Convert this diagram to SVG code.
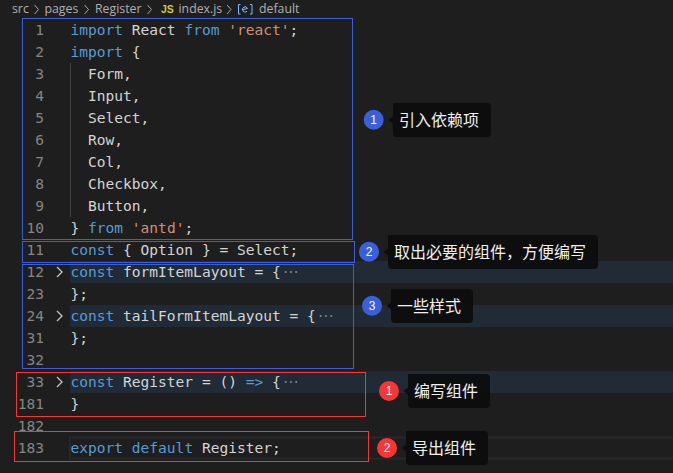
<svg xmlns="http://www.w3.org/2000/svg" width="673" height="473" viewBox="0 0 673 473">
<style>
.code{font-family:"DejaVu Sans Mono","Liberation Mono",monospace;font-size:14.55px;fill:#d4d4d4;white-space:pre}
.k{fill:#569cd6}.s{fill:#ce9178}
.d{fill:#858585;font-family:"Noto Sans CJK SC",sans-serif;font-size:14px}
.n{font-family:"DejaVu Sans Mono","Liberation Mono",monospace;font-size:14.55px;fill:#858585;text-anchor:end}
.crumb{font-family:"Open Sans","Liberation Sans",sans-serif;font-size:12.3px;fill:#b0b0b0}
.chev{fill:none;stroke:#a9a9a9;stroke-width:1}
.fold{fill:none;stroke:#c5c5c5;stroke-width:1.3}
.band{fill:#202b36}
.box{fill:none;stroke-width:1}
.blue{stroke:#3a5fd9}.red{stroke:#f93636}
.tip{fill:#0c0c0c;fill-opacity:.92}
.cb{fill:#3a5fd9}.cr{fill:#f93636}
.num{font-family:"Liberation Sans",Arial,sans-serif;font-size:12px;fill:#fff;text-anchor:middle}
.lbl{font-family:"Noto Sans CJK SC","Noto Sans",sans-serif;font-size:16px;fill:#f0f0f0}
</style>
<rect width="673" height="473" fill="#1e1e1e"/>
<g id="breadcrumb">
<text class="crumb" x="12" y="13">src</text>
<path class="chev" d="M34.500 5l4 4.500l-4 4.500"/>
<text class="crumb" x="44.500" y="13">pages</text>
<path class="chev" d="M84.500 5l4 4.500l-4 4.500"/>
<text class="crumb" x="95" y="13">Register</text>
<path class="chev" d="M147.500 5l4 4.500l-4 4.500"/>
<text x="161" y="12.500" font-family="Liberation Sans,sans-serif" font-size="10.500" font-weight="700" fill="#cbcb41">JS</text>
<text class="crumb" x="178.500" y="13">index.js</text>
<path class="chev" d="M227 5l4 4.500l-4 4.500"/>
<path d="M240.500 4.500h-2v9.500h2M250 4.500h2v9.500h-2" fill="none" stroke="#75beff" stroke-width="1"/>
<path d="M243 9.500l4.500-1a2.600 2.600 0 1 0-.5 2.700" fill="none" stroke="#75beff" stroke-width="1"/>
<text class="crumb" x="259" y="13">default</text>
</g>
<g id="editor-bands">
<rect class="band" x="70" y="261" width="603" height="22"/>
<rect class="band" x="70" y="305" width="603" height="22"/>
<rect class="band" x="70" y="371" width="603" height="22"/>
<rect x="70" y="437.500" width="604" height="21" fill="none" stroke="#282828" stroke-width="2"/>
<path d="M70.500 63v154" stroke="#404040" stroke-width="1"/>
</g>
<g id="line-numbers">
<text class="n" x="44" y="35">1</text><text class="n" x="44" y="57">2</text><text class="n" x="44" y="79">3</text><text class="n" x="44" y="101">4</text><text class="n" x="44" y="123">5</text><text class="n" x="44" y="145">6</text><text class="n" x="44" y="167">7</text><text class="n" x="44" y="189">8</text><text class="n" x="44" y="211">9</text><text class="n" x="44" y="233">10</text><text class="n" x="44" y="255">11</text><text class="n" x="44" y="277">12</text><text class="n" x="44" y="299">23</text><text class="n" x="44" y="321">24</text><text class="n" x="44" y="343">31</text><text class="n" x="44" y="365">32</text><text class="n" x="44" y="387">33</text><text class="n" x="44" y="409">181</text><text class="n" x="44" y="431">182</text><text class="n" x="44" y="453">183</text>
</g>
<g id="fold-chevrons">
<path class="fold" d="M57 267l5 5l-5 5"/><path class="fold" d="M57 311l5 5l-5 5"/><path class="fold" d="M57 377l5 5l-5 5"/>
</g>
<g id="code">
<text class="code" x="70.500" y="35"><tspan class="k">import</tspan> React <tspan class="k">from</tspan> <tspan class="s">'react'</tspan>;</text>
<text class="code" x="70.500" y="57"><tspan class="k">import</tspan> {</text>
<text class="code" x="88" y="79">Form,</text>
<text class="code" x="88" y="101">Input,</text>
<text class="code" x="88" y="123">Select,</text>
<text class="code" x="88" y="145">Row,</text>
<text class="code" x="88" y="167">Col,</text>
<text class="code" x="88" y="189">Checkbox,</text>
<text class="code" x="88" y="211">Button,</text>
<text class="code" x="70.500" y="233">} <tspan class="k">from</tspan> <tspan class="s">'antd'</tspan>;</text>
<text class="code" x="70.500" y="255"><tspan class="k">const</tspan> { Option } = Select;</text>
<text class="code" x="70.500" y="277"><tspan class="k">const</tspan> formItemLayout = {<tspan class="d" dx="2.500" dy="-4">⋯</tspan></text>
<text class="code" x="70.500" y="299">};</text>
<text class="code" x="70.500" y="321"><tspan class="k">const</tspan> tailFormItemLayout = {<tspan class="d" dx="2.500" dy="-4">⋯</tspan></text>
<text class="code" x="70.500" y="343">};</text>
<text class="code" x="70.500" y="387"><tspan class="k">const</tspan> Register = () <tspan class="k">=&gt;</tspan> {<tspan class="d" dx="2.500" dy="-4">⋯</tspan></text>
<text class="code" x="70.500" y="409">}</text>
<text class="code" x="70.500" y="453"><tspan class="k">export</tspan> <tspan class="k">default</tspan> Register;</text>
</g>
<g id="connectors"></g>
<g id="frame-imports"><rect class="box blue" x="22.500" y="18.500" width="330" height="221"/></g>
<g id="frame-option"><rect class="box blue" x="22.500" y="241.500" width="332" height="21"/></g>
<g id="frame-styles"><rect class="box blue" x="22.500" y="264.500" width="331" height="104"/></g>
<g id="frame-register"><rect class="box red" x="16.500" y="372.500" width="349" height="44"/></g>
<g id="frame-export"><rect class="box red" x="14.500" y="431.500" width="354" height="30"/></g>
<g id="note-blue-1">
<circle class="cb" cx="373.700" cy="119.700" r="10"/><text class="num" x="373.700" y="124">1</text>
<path class="tip" d="M393 103h94a4 4 0 0 1 4 4v26a4 4 0 0 1-4 4h-90a4 4 0 0 1-4-4v-9.500l-4.500-3.500l4.500-3.500z"/>
<text class="lbl" x="399" y="125.500">引入依赖项</text>
</g>
<g id="note-blue-2">
<circle class="cb" cx="369" cy="251.700" r="10"/><text class="num" x="369" y="256">2</text>
<path class="tip" d="M388 235h206a4 4 0 0 1 4 4v26a4 4 0 0 1-4 4h-202a4 4 0 0 1-4-4v-9.500l-4.500-3.500l4.500-3.500z"/>
<text class="lbl" x="394" y="258">取出必要的组件，方便编写</text>
</g>
<g id="note-blue-3">
<circle class="cb" cx="372" cy="305.700" r="10"/><text class="num" x="372" y="310">3</text>
<path class="tip" d="M391 289h78a4 4 0 0 1 4 4v26a4 4 0 0 1-4 4h-74a4 4 0 0 1-4-4v-9.500l-4.500-3.500l4.500-3.500z"/>
<text class="lbl" x="397" y="312">一些样式</text>
</g>
<g id="note-red-1">
<circle class="cr" cx="389" cy="391" r="10"/><text class="num" x="389" y="395.300">1</text>
<path class="tip" d="M408 374h78a4 4 0 0 1 4 4v26a4 4 0 0 1-4 4h-74a4 4 0 0 1-4-4v-9.500l-4.500-3.500l4.500-3.500z"/>
<text class="lbl" x="414" y="397">编写组件</text>
</g>
<g id="note-red-2">
<circle class="cr" cx="387" cy="448" r="10"/><text class="num" x="387" y="452.300">2</text>
<path class="tip" d="M406 431h78a4 4 0 0 1 4 4v26a4 4 0 0 1-4 4h-74a4 4 0 0 1-4-4v-9.500l-4.500-3.500l4.500-3.500z"/>
<text class="lbl" x="412" y="454">导出组件</text>
</g>
</svg>
